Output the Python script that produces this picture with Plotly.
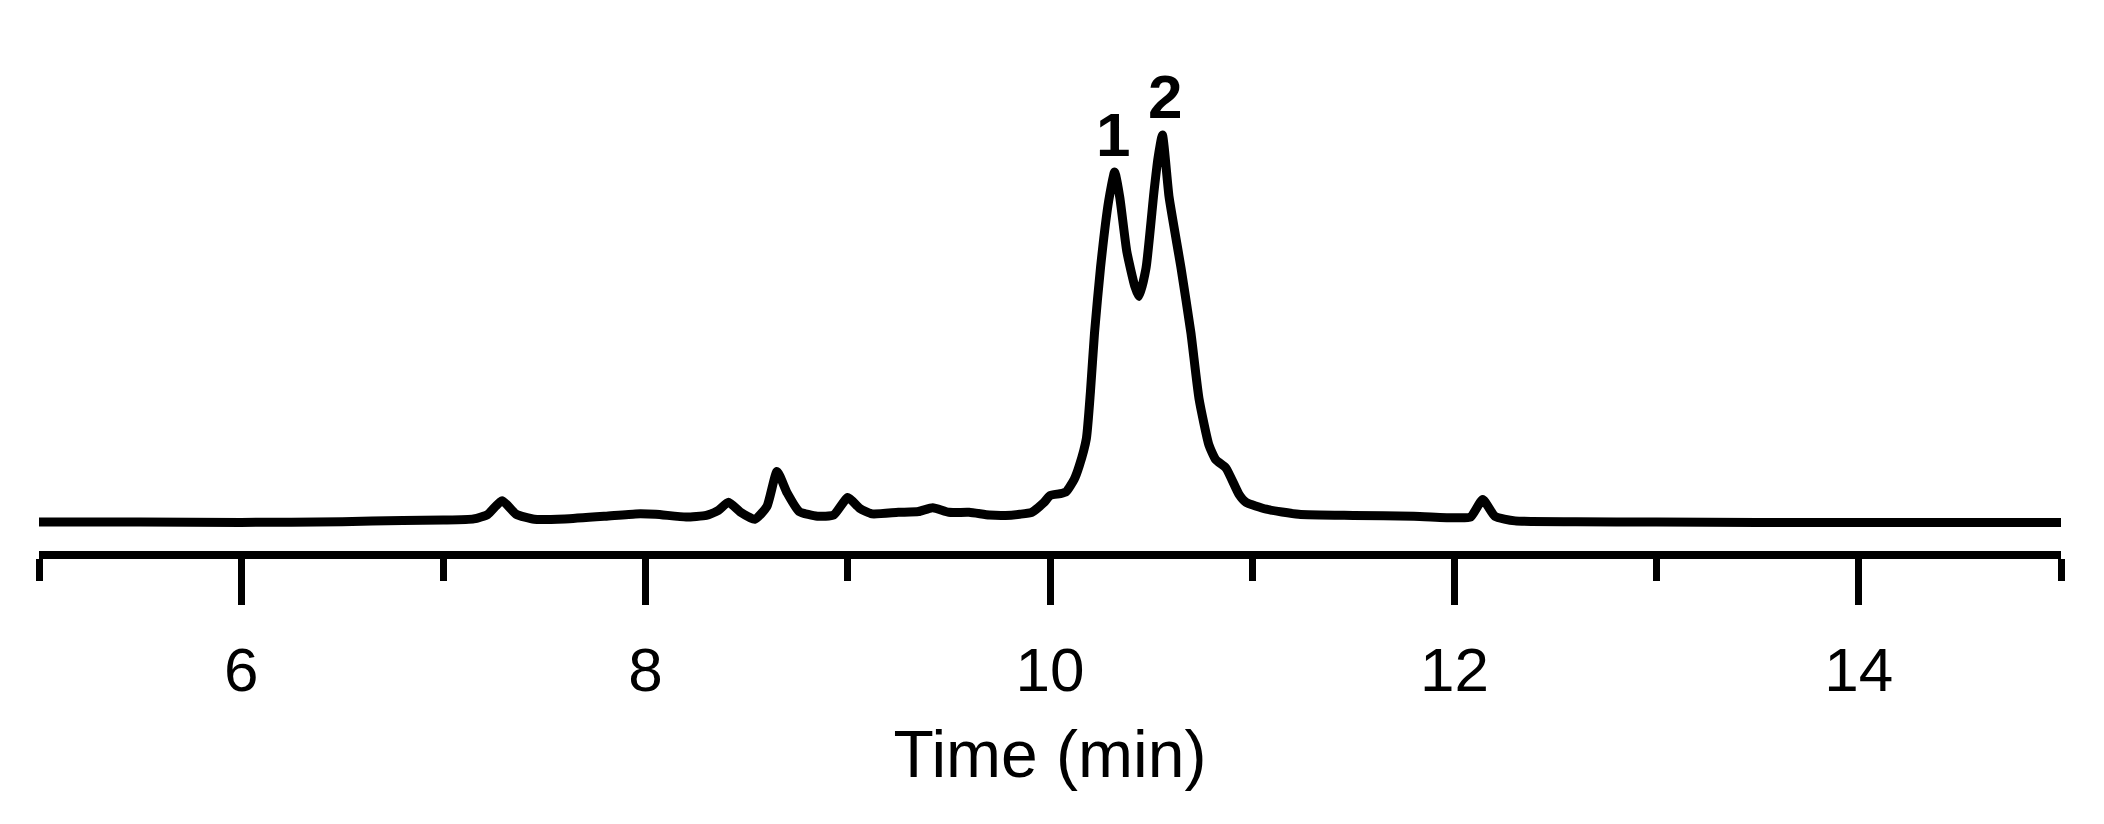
import plotly.graph_objects as go

# retention time (min) and detector response (arbitrary units, peak 2 = 100)
time_min = [
    5.00, 5.50, 6.00, 6.50, 6.80, 7.00, 7.15, 7.22, 7.29, 7.36, 7.45, 7.60,
    7.80, 7.95, 8.05, 8.20, 8.30, 8.36, 8.41, 8.47, 8.54, 8.60, 8.65, 8.70,
    8.76, 8.85, 8.93, 9.00, 9.06, 9.12, 9.25, 9.35, 9.42, 9.50, 9.60, 9.70,
    9.78, 9.85, 9.91, 9.97, 10.00, 10.05, 10.08, 10.12, 10.145, 10.18,
    10.20, 10.22, 10.25, 10.29, 10.32, 10.345, 10.38, 10.42,
    10.44, 10.475, 10.514, 10.534, 10.556, 10.589, 10.648, 10.697, 10.737,
    10.786, 10.82, 10.87, 10.935, 10.969, 11.07, 11.23, 11.50, 11.80, 12.00,
    12.08, 12.14, 12.20, 12.30, 12.60, 13.00, 13.50, 14.00, 14.50, 15.00,
]
signal = [
    0.5, 0.5, 0.4, 0.6, 0.9, 1.0, 1.3, 2.5, 6.0, 2.5, 1.2, 1.3,
    2.0, 2.6, 2.5, 1.8, 2.2, 3.5, 5.6, 3.0, 1.2, 4.5, 13.5, 8.0,
    3.2, 2.0, 2.3, 6.8, 4.0, 2.6, 3.0, 3.2, 4.2, 3.0, 3.0, 2.3,
    2.2, 2.5, 3.0, 5.5, 7.3, 7.8, 8.3, 11.5, 15.0, 22.0,
    34.0, 49.0, 66.0, 83.0, 90.5, 84.0, 70.0, 61.0,
    58.5, 65.8, 85.3, 94.0, 100.0, 84.0, 65.8, 49.1, 32.2,
    20.3, 16.5, 14.4, 7.6, 5.6, 3.8, 2.5, 2.2, 2.0, 1.6,
    1.8, 6.3, 2.0, 0.8, 0.6, 0.5, 0.4, 0.4, 0.4, 0.4,
]

peak_labels = ["1", "2"]
peak_x = [10.31, 10.57]
peak_y = [100, 110]

tick_vals = [6, 8, 10, 12, 14]

FONT = "Liberation Sans, Arial, sans-serif"

fig = go.Figure()
fig.add_trace(
    go.Scatter(
        x=time_min,
        y=signal,
        mode="lines",
        line=dict(color="black", width=9, shape="spline", smoothing=0.5),
        showlegend=False,
    )
)

for lab, px, py in zip(peak_labels, peak_x, peak_y):
    fig.add_annotation(
        x=px,
        y=py,
        text=f"<b>{lab}</b>",
        showarrow=False,
        font=dict(family=FONT, size=62, color="black"),
    )

fig.update_layout(
    width=2104,
    height=824,
    margin=dict(l=31, r=51, t=20, b=281),
    plot_bgcolor="white",
    paper_bgcolor="white",
    font=dict(family=FONT, color="black"),
)
fig.update_xaxes(
    range=[5, 15],
    showgrid=False,
    zeroline=False,
    showline=True,
    linecolor="black",
    linewidth=8,
    ticks="outside",
    ticklen=46,
    tickwidth=7,
    tickcolor="black",
    tickvals=tick_vals,
    ticklabelstandoff=12,
    tickfont=dict(family=FONT, size=62, color="black"),
    minor=dict(dtick=1, tick0=5, ticks="outside", ticklen=22, tickwidth=7,
               tickcolor="black", showgrid=False),
    title=dict(text="Time (min)", font=dict(family=FONT, size=66, color="black"),
               standoff=30),
)
fig.update_yaxes(visible=False, range=[-6.94, 127.5])

fig.write_html("out.html")
